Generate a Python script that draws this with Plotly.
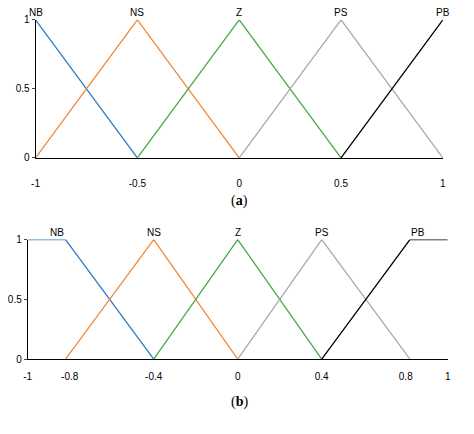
import plotly.graph_objects as go

# (a)
a_ticks = [-1, -0.5, 0, 0.5, 1]
a_NB_x = [-1, -0.5]; a_NB_y = [1, 0]
a_NS_x = [-1, -0.5, 0]; a_NS_y = [0, 1, 0]
a_Z_x = [-0.5, 0, 0.5]; a_Z_y = [0, 1, 0]
a_PS_x = [0, 0.5, 1]; a_PS_y = [0, 1, 0]
a_PB_x = [0.5, 1]; a_PB_y = [0, 1]
a_label_x = [-1, -0.5, 0, 0.5, 1]
# (b)
b_ticks = [-1, -0.8, -0.4, 0, 0.4, 0.8, 1]
b_NB_x = [-1, -0.82, -0.4]; b_NB_y = [1, 1, 0]
b_NS_x = [-0.82, -0.4, 0]; b_NS_y = [0, 1, 0]
b_Z_x = [-0.4, 0, 0.4]; b_Z_y = [0, 1, 0]
b_PS_x = [0, 0.4, 0.82]; b_PS_y = [0, 1, 0]
b_PB_x = [0.4, 0.82, 1]; b_PB_y = [0, 1, 1]
b_label_x = [-0.86, -0.4, 0, 0.4, 0.86]
labels = ["NB", "NS", "Z", "PS", "PB"]
colors = ["#2e7dc4", "#f28a3a", "#4aaa4a", "#aaaaaa", "#000000"]

W, H, OFF = 474, 434, 8  # page body margin offset

def px(v):
    return (v - OFF) / W

def py(v):
    return 1 - (v - OFF) / H

fig = go.Figure()
for (xs, ys), c in zip([(a_NB_x, a_NB_y), (a_NS_x, a_NS_y), (a_Z_x, a_Z_y), (a_PS_x, a_PS_y), (a_PB_x, a_PB_y)], colors):
    fig.add_trace(go.Scatter(x=xs, y=ys, mode="lines", line=dict(color=c, width=1.3), xaxis="x", yaxis="y", cliponaxis=False))
for (xs, ys), c in zip([(b_NB_x, b_NB_y), (b_NS_x, b_NS_y), (b_Z_x, b_Z_y), (b_PS_x, b_PS_y), (b_PB_x, b_PB_y)], colors):
    fig.add_trace(go.Scatter(x=xs, y=ys, mode="lines", line=dict(color=c, width=1.3), xaxis="x2", yaxis="y2", cliponaxis=False))

ann = []
for lx, t in zip(a_label_x, labels):
    ann.append(dict(x=lx, y=1.0, xref="x", yref="y", text=t, showarrow=False, yanchor="bottom", font=dict(size=10)))
for lx, t in zip(b_label_x, labels):
    ann.append(dict(x=lx, y=1.0, xref="x2", yref="y2", text=t, showarrow=False, yanchor="bottom", font=dict(size=10)))
ann.append(dict(x=px(237), y=py(200), xref="paper", yref="paper", text="(<b>a</b>)", showarrow=False, yanchor="middle", xanchor="center", font=dict(size=14, family="Liberation Serif")))
ann.append(dict(x=px(237), y=py(407), xref="paper", yref="paper", text="(<b>b</b>)", showarrow=False, yanchor="middle", xanchor="center", font=dict(size=14, family="Liberation Serif")))

ax = dict(showgrid=False, zeroline=False, showline=True, linecolor="black", linewidth=1, ticks="", tickfont=dict(size=10))
fig.update_layout(
    width=W, height=H, margin=dict(l=0, r=0, t=0, b=0),
    paper_bgcolor="white", plot_bgcolor="white", showlegend=False,
    font=dict(family="Liberation Sans", color="black"),
    xaxis=dict(**ax, domain=[px(28), px(445)], range=[-1, 1], tickvals=a_ticks, ticktext=[str(v) for v in a_ticks], anchor="y", ticklabelstandoff=16),
    yaxis=dict(**ax, domain=[py(156), py(14)], range=[0, 1], tickvals=[0, 0.5, 1], ticktext=["0", "0.5", "1"], anchor="x"),
    xaxis2=dict(**ax, domain=[px(20), px(450)], range=[-1, 1], tickvals=b_ticks, ticktext=[str(v) for v in b_ticks], anchor="y2", ticklabelstandoff=8),
    yaxis2=dict(**ax, domain=[py(363), py(240)], range=[0, 1], tickvals=[0, 0.5, 1], ticktext=["0", "0.5", "1"], anchor="x2"),
    annotations=ann,
)
fig.update_yaxes(ticks="outside", ticklen=3)
fig.write_html("out.html")
